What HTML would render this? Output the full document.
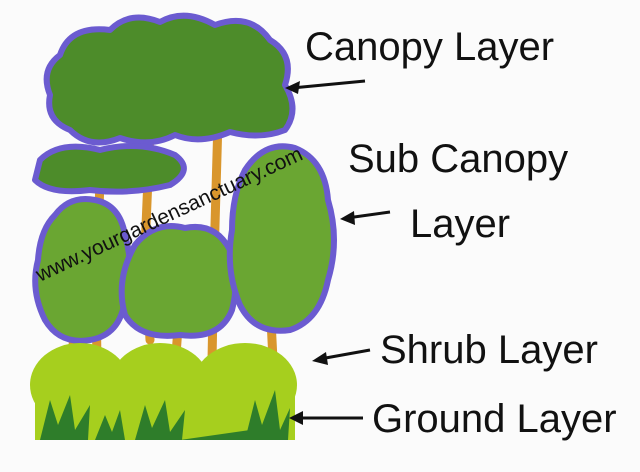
<!DOCTYPE html>
<html><head><meta charset="utf-8"><style>
html,body{margin:0;padding:0;background:#fbfbfb;}
svg{display:block}
</style></head><body>
<svg width="640" height="472" viewBox="0 0 640 472" xmlns="http://www.w3.org/2000/svg">
<rect width="640" height="472" fill="#fbfbfb"/>
<g stroke="#d9962c" stroke-width="9" fill="none" stroke-linecap="round">
<path d="M100 180 L96 300 L98 420"/>
<path d="M150 130 L145 250 L150 340"/>
<path d="M218 120 L214 260 L212 360"/>
<path d="M180 300 L172 410"/>
<path d="M75 320 L72 360"/>
<path d="M270 300 L275 400"/>
</g>
<g fill="#4d8c2a" stroke="#6b5bd0" stroke-width="6" stroke-linejoin="round">
<path d="M60 55 Q70 25 110 30 Q130 10 160 22 Q185 8 215 25 Q250 12 270 40 Q295 55 285 85 Q300 110 285 130 Q260 140 230 132 Q200 145 175 135 Q150 148 120 138 Q90 150 70 130 Q45 120 50 95 Q40 70 60 55Z"/>
<path d="M40 160 Q60 140 100 150 Q140 140 175 155 Q195 170 170 185 Q130 195 90 190 Q50 195 35 180Z"/>
</g>
<g fill="#6aa632" stroke="#6b5bd0" stroke-width="6" stroke-linejoin="round">
<path d="M55 215 Q70 195 95 200 Q120 205 125 235 Q135 270 125 300 Q120 335 90 340 Q60 345 45 320 Q30 290 38 260 Q40 230 55 215Z"/>
<path d="M135 245 Q155 220 185 228 Q215 222 230 250 Q240 280 232 310 Q220 340 180 335 Q140 340 125 315 Q115 280 135 245Z"/>
<path d="M245 170 Q265 140 295 148 Q325 160 328 200 Q340 240 328 280 Q320 320 290 330 Q255 335 240 305 Q225 270 232 230 Q232 195 245 170Z"/>
</g>
<g fill="#a6cf1e">
<ellipse cx="80" cy="385" rx="50" ry="42"/>
<ellipse cx="160" cy="385" rx="50" ry="42"/>
<ellipse cx="245" cy="385" rx="52" ry="42"/>
<rect x="35" y="385" width="260" height="55"/>
</g>
<g fill="#2e7d2a">
<path d="M40 440 L50 400 L58 425 L70 395 L75 430 L90 405 L88 440Z"/>
<path d="M135 440 L145 405 L152 428 L165 400 L170 432 L185 410 L182 440Z"/>
<path d="M180 440 L250 430 L285 440Z"/>
<path d="M245 440 L255 400 L262 425 L275 390 L280 430 L290 408 L288 440Z"/>
<path d="M95 440 L105 415 L112 432 L120 410 L125 440Z"/>
</g>
<text x="40" y="282" transform="rotate(-25 40 282)" font-family="Liberation Sans, sans-serif" font-size="21" fill="#111">www.yourgardensanctuary.com</text>
<g font-family="Liberation Sans, sans-serif" font-size="40" fill="#111">
<text x="305" y="60">Canopy Layer</text>
<text x="348" y="172">Sub Canopy</text>
<text x="410" y="237">Layer</text>
<text x="380" y="363">Shrub Layer</text>
<text x="372" y="432">Ground Layer</text>
</g>
<g stroke="#111" stroke-width="3" fill="#111">
<line x1="365" y1="81" x2="292" y2="88"/>
<path d="M285 88 L300 81 L298 94Z" stroke="none"/>
<line x1="390" y1="212" x2="347" y2="218"/>
<path d="M340 219 L354 211 L355 225Z" stroke="none"/>
<line x1="370" y1="350" x2="320" y2="359"/>
<path d="M312 361 L326 352 L328 365Z" stroke="none"/>
<line x1="363" y1="418" x2="297" y2="418"/>
<path d="M289 418 L303 411 L303 425Z" stroke="none"/>
</g>
</svg>
</body></html>
